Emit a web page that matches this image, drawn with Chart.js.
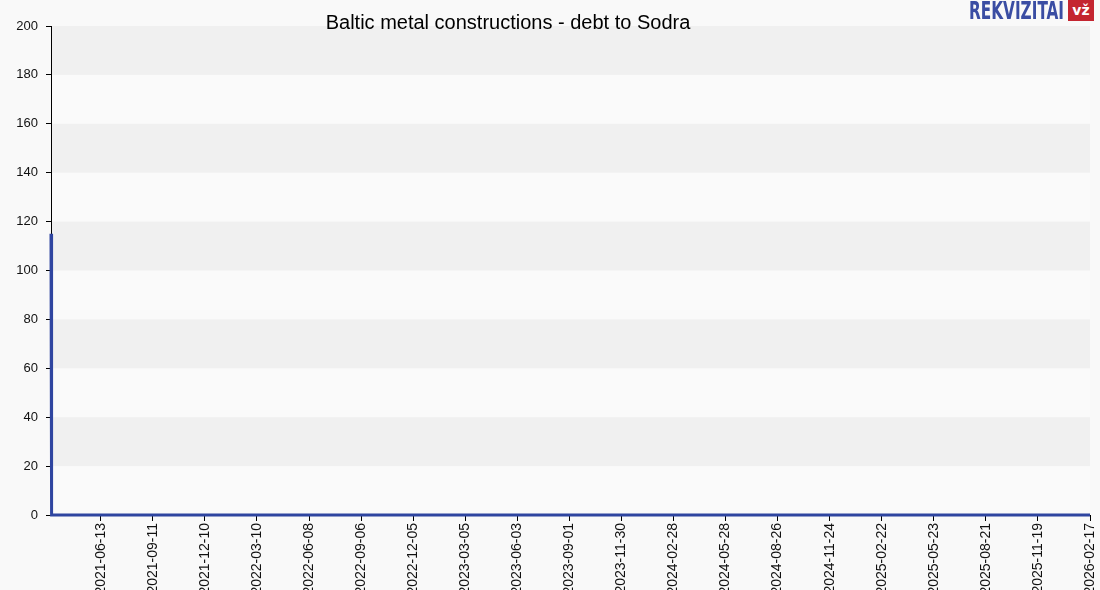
<!DOCTYPE html>
<html>
<head>
<meta charset="utf-8">
<script src="https://cdn.jsdelivr.net/npm/chart.js@4"></script>
<style>
  body { margin: 0; background: #f9f9f9; font-family: "Liberation Sans", Arial, sans-serif; }
  #wrap { position: relative; width: 1100px; height: 590px; }
  #logo { position: absolute; left: 969px; top: -4px; font-family: "DejaVu Sans Condensed", sans-serif; font-weight: bold;
          font-size: 25px; color: #3a4da3; letter-spacing: 0px; transform: scaleX(0.68); transform-origin: left top; }
  #vz { position: absolute; left: 1068px; top: 0; width: 26px; height: 21px; background: #c42530; color: #fff;
        font-family: "DejaVu Sans", sans-serif; font-weight: bold; font-size: 14px; line-height: 20px; text-align: center; }
</style>
</head>
<body>
<div id="wrap">
  <canvas id="chart" width="1100" height="590"></canvas>
  <div id="logo">REKVIZITAI</div>
  <div id="vz">vž</div>
</div>
<script>
// data
const dates = ['2021-03-19', '2021-03-20', '2026-02-17'];
const values = [115, 0, 0];
const tickLabels = ['2021-06-13', '2021-09-11', '2021-12-10', '2022-03-10', '2022-06-08', '2022-09-06',
  '2022-12-05', '2023-03-05', '2023-06-03', '2023-09-01', '2023-11-30', '2024-02-28', '2024-05-28',
  '2024-08-26', '2024-11-24', '2025-02-22', '2025-05-23', '2025-08-21', '2025-11-19', '2026-02-17'];
const yTicks = [0, 20, 40, 60, 80, 100, 120, 140, 160, 180, 200];
const title = 'Baltic metal constructions - debt to Sodra';

function toDay(s) {
  const p = s.split('-');
  return Date.UTC(+p[0], +p[1] - 1, +p[2]) / 86400000;
}
function fromDay(d) {
  return new Date(d * 86400000).toISOString().slice(0, 10);
}
const tickDays = tickLabels.map(toDay);

// alternating background bands + title
const bands = {
  id: 'bands',
  beforeDraw(chart) {
    const { ctx, chartArea: a, scales: { y } } = chart;
    ctx.save();
    ctx.fillStyle = '#fafafa';
    ctx.fillRect(a.left, a.top, a.right - a.left, a.bottom - a.top);
    ctx.fillStyle = '#f0f0f0';
    for (let i = 1; i < yTicks.length; i += 2) {
      const t = y.getPixelForValue(yTicks[i + 1] !== undefined ? yTicks[i + 1] : yTicks[i]);
      const b = y.getPixelForValue(yTicks[i]);
      ctx.fillRect(a.left, t, a.right - a.left, b - t);
    }
    ctx.restore();
  },
  afterDraw(chart) {
    const ctx = chart.ctx;
    ctx.save();
    ctx.font = '20px "Liberation Sans", Arial, sans-serif';
    ctx.fillStyle = '#000';
    ctx.textAlign = 'center';
    ctx.textBaseline = 'middle';
    ctx.fillText(title, 508, 23);
    ctx.restore();
  }
};

new Chart(document.getElementById('chart'), {
  type: 'line',
  data: {
    datasets: [{
      data: dates.map((d, i) => ({ x: toDay(d), y: values[i] })),
      borderColor: '#2f45a0',
      borderWidth: 3,
      pointRadius: 0,
      tension: 0,
      fill: false,
      clip: false
    }]
  },
  options: {
    responsive: false,
    animation: false,
    plugins: { legend: { display: false }, tooltip: { enabled: false } },
    layout: { padding: { top: 26, right: 0, left: 0, bottom: 0 } },
    scales: {
      x: {
        type: 'linear',
        min: toDay(dates[0]),
        max: tickDays[tickDays.length - 1],
        afterBuildTicks(scale) { scale.ticks = tickDays.map(v => ({ value: v })); },
        afterFit(scale) { scale.height = 75; scale.paddingRight = 10; },
        grid: { drawOnChartArea: false, drawTicks: true, tickLength: 6, color: '#000' },
        border: { display: true, color: '#000' },
        ticks: {
          autoSkip: false, minRotation: 90, maxRotation: 90, padding: 2,
          color: '#111', font: { size: 14, family: '"Liberation Sans", Arial, sans-serif' },
          callback: v => fromDay(v)
        }
      },
      y: {
        min: 0, max: 200,
        afterBuildTicks(scale) { scale.ticks = yTicks.map(v => ({ value: v })); },
        afterFit(scale) { scale.width = 51; },
        grid: { drawOnChartArea: false, drawTicks: true, tickLength: 5, color: '#000' },
        border: { display: true, color: '#000' },
        ticks: { padding: 8, color: '#111', font: { size: 13, family: '"Liberation Sans", Arial, sans-serif' } }
      }
    }
  },
  plugins: [bands]
});
</script>
</body>
</html>
